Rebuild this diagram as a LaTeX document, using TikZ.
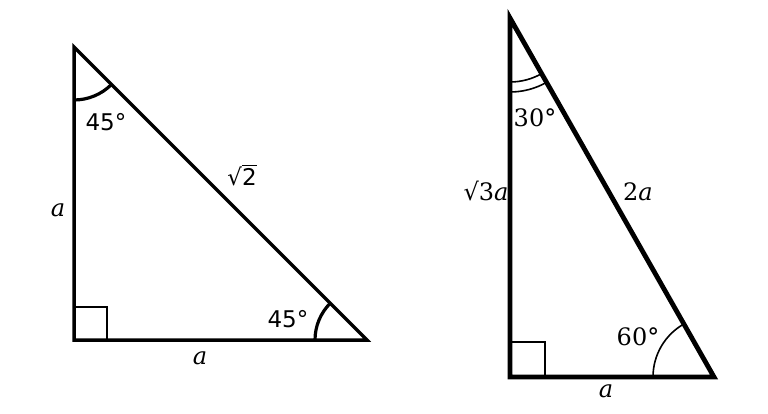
\documentclass[tikz,border=0pt]{standalone}
\usepackage{fontspec}
\setmainfont{DejaVu Serif}
\setsansfont{DejaVu Sans}
\usetikzlibrary{calc}
\begin{document}
\begin{tikzpicture}[x=1pt,y=1pt,line join=miter,
  lbl/.style={inner sep=0pt,font=\fontsize{24}{28}\selectfont},
  slbl/.style={inner sep=0pt,font=\sffamily\fontsize{23}{26}\selectfont}]
\useasboundingbox (0,0) rectangle (768,413);
% left triangle
\coordinate (A) at (74,366);
\coordinate (B) at (74,73);
\coordinate (C) at (367,73);
\draw[line width=1.4pt] (B) rectangle (107,106);
\draw[line width=3.5pt] (A) -- (B) -- (C) -- cycle;
\draw[line width=3.2pt] ($(A)+(270:53)$) arc[start angle=270,end angle=315,radius=53];
\draw[line width=3.2pt] ($(C)+(180:52)$) arc[start angle=180,end angle=135,radius=52];
\node[slbl] (t1) at (106,291) {45°};
\node[slbl] (t2) at (288,94) {45°};
\node[lbl] (la) at (58,203) {\textit{a}};
\node[lbl] (lb) at (200,55) {\textit{a}};
\node[slbl,anchor=base] (lc) at (242,228) {√\vbox{\hrule height 0.9pt\kern2.5pt\hbox{2}}};
% right triangle
\coordinate (D) at (510,395);
\coordinate (E) at (510,36);
\coordinate (F) at (714,36);
\draw[line width=1.5pt] (E) rectangle (545,71);
\draw[line width=4.8pt] (D) -- (E) -- (F) -- cycle;
\draw[line width=1.6pt] ($(D)+(270:64)$) arc[start angle=270,end angle=299.6,radius=64];
\draw[line width=1.6pt] ($(D)+(270:74)$) arc[start angle=270,end angle=299.6,radius=74];
\draw[line width=1.6pt] ($(F)+(180:61)$) arc[start angle=180,end angle=119.6,radius=61];
\node[lbl] (r1) at (535,295) {30°};
\node[lbl] (r2) at (638,76) {60°};
\node[lbl] (ra) at (486,222) {√3\textit{a}};
\node[lbl] (rb) at (638,221) {2\textit{a}};
\node[lbl] (rc) at (606,22) {\textit{a}};
\end{tikzpicture}
\end{document}
